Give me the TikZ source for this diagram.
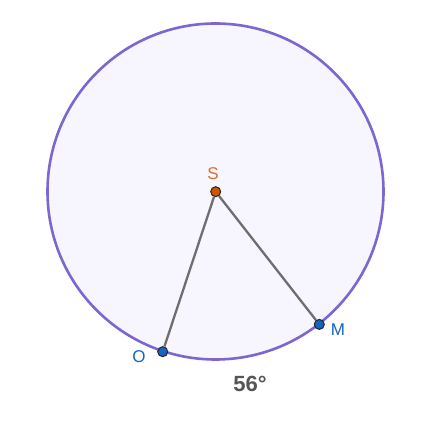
\documentclass[tikz,border=0pt]{standalone}
\usepackage{fontspec}
\setmainfont{Liberation Sans}
\definecolor{circ}{RGB}{125,102,208}
\definecolor{circfill}{RGB}{247,245,253}
\definecolor{seg}{RGB}{110,110,110}
\definecolor{ptblue}{RGB}{21,101,192}
\definecolor{ptorange}{RGB}{211,84,0}
\definecolor{lblblue}{RGB}{21,101,192}
\definecolor{lblorange}{RGB}{214,110,50}
\definecolor{angtxt}{RGB}{85,85,85}
\tikzset{
  pt/.style={circle,draw=black!85,line width=1pt,inner sep=0pt,minimum size=10pt},
  lbl/.style={font=\fontsize{17}{17}\selectfont,inner sep=0pt},
}
\begin{document}
\begin{tikzpicture}[x=1pt,y=-1pt]
\useasboundingbox (0,0) rectangle (437,435);
\fill[white] (0,0) rectangle (437,435);
\coordinate (c) at (215.5,191.5);
\draw[circ,fill=circfill,line width=2.6pt] (c) circle[radius=168];
\node[pt,fill=ptorange] (S) at (215.7,191.7) {};
\node[pt,fill=ptblue] (O) at (162.7,351.7) {};
\node[pt,fill=ptblue] (M) at (319.3,324.4) {};
\draw[seg,line width=2.3pt] (S) -- (O);
\draw[seg,line width=2.3pt] (S) -- (M);
\node[lbl,text=lblorange] (Sl) at (213,174) {S};
\node[lbl,text=lblblue] (Ol) at (139,357) {O};
\node[lbl,text=lblblue] (Ml) at (338,330) {M};
\node[font=\bfseries\fontsize{22}{22}\selectfont,text=angtxt,inner sep=0pt] (ang) at (250,384) {56°};
\end{tikzpicture}
\end{document}
